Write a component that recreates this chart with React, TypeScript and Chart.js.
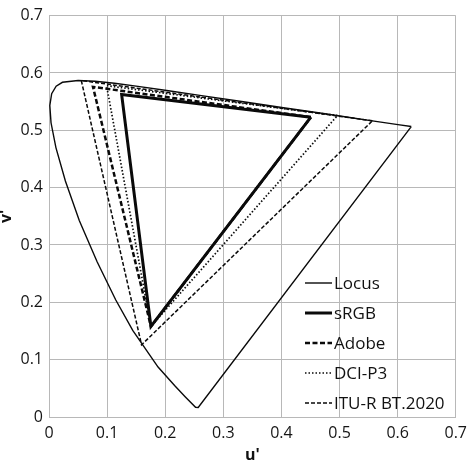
import React, { useEffect, useRef } from "react";
import { Chart, registerables } from "chart.js";

Chart.register(...registerables);

// Spectral locus (u', v') from red end around to blue end, closed by the purple line
const locusU = [0.6234, 0.6005, 0.5565, 0.5203, 0.4692, 0.4035, 0.3315, 0.2623, 0.2026, 0.1531, 0.1127, 0.0792, 0.0501, 0.0231, 0.0123, 0.0046, 0.0014, 0.0035, 0.0119, 0.0282, 0.0521, 0.0828, 0.1147, 0.1441, 0.1877, 0.2161, 0.2347, 0.2522, 0.2568, 0.6234];
const locusV = [0.5065, 0.5099, 0.5165, 0.5219, 0.5296, 0.5393, 0.5501, 0.5604, 0.5694, 0.5766, 0.5821, 0.5856, 0.5868, 0.5837, 0.5770, 0.5638, 0.5432, 0.5131, 0.4698, 0.4117, 0.3427, 0.2708, 0.2044, 0.1510, 0.0871, 0.0549, 0.0350, 0.0169, 0.0165, 0.5065];

const srgbU = [0.4507, 0.1250, 0.1754, 0.4507];
const srgbV = [0.5229, 0.5625, 0.1579, 0.5229];
const adobeU = [0.4507, 0.0757, 0.1754, 0.4507];
const adobeV = [0.5229, 0.5757, 0.1579, 0.5229];
const p3U = [0.4964, 0.0991, 0.1754, 0.4964];
const p3V = [0.5256, 0.5777, 0.1579, 0.5256];
const bt2020U = [0.5566, 0.0556, 0.1593, 0.5566];
const bt2020V = [0.5165, 0.5868, 0.1258, 0.5165];

const seriesNames = ["Locus", "sRGB", "Adobe", "DCI-P3", "ITU-R BT.2020"];
const tickLabels = ["0", "0.1", "0.2", "0.3", "0.4", "0.5", "0.6", "0.7"];

const pts = (u: number[], v: number[]) => u.map((x, i) => ({ x, y: v[i] }));

const FONT = "'Open Sans', 'Noto Sans', sans-serif";

const legendPlugin = {
  id: "insideLegend",
  afterDraw(chart: any) {
    const ctx = chart.ctx;
    const ds = chart.data.datasets;
    const x0 = 305;
    const x1 = 332;
    const yStart = 283;
    const step = 30;
    ctx.save();
    ds.forEach((d: any, i: number) => {
      const y = yStart + i * step;
      ctx.beginPath();
      ctx.setLineDash(d.borderDash || []);
      ctx.lineWidth = d.borderWidth;
      ctx.strokeStyle = d.borderColor;
      ctx.moveTo(x0, y);
      ctx.lineTo(x1, y);
      ctx.stroke();
      ctx.setLineDash([]);
      ctx.fillStyle = "#111";
      ctx.font = `17px ${FONT}`;
      ctx.textBaseline = "middle";
      ctx.textAlign = "left";
      ctx.fillText(d.label, x1 + 2, y + 1);
    });
    ctx.restore();
  },
};

export default function App() {
  const ref = useRef<HTMLCanvasElement>(null);
  useEffect(() => {
    document.body.style.margin = "0";
    const base = { showLine: true, pointRadius: 0, fill: false, tension: 0, borderColor: "#0a0a0a" };
    const chart = new Chart(ref.current!, {
      type: "scatter",
      data: {
        datasets: [
          { ...base, label: seriesNames[0], data: pts(locusU, locusV), borderWidth: 1.4, borderDash: [] },
          { ...base, label: seriesNames[1], data: pts(srgbU, srgbV), borderWidth: 3, borderDash: [] },
          { ...base, label: seriesNames[2], data: pts(adobeU, adobeV), borderWidth: 2.5, borderDash: [5, 2.5] },
          { ...base, label: seriesNames[3], data: pts(p3U, p3V), borderWidth: 1.7, borderDash: [1.5, 2] },
          { ...base, label: seriesNames[4], data: pts(bt2020U, bt2020V), borderWidth: 1.5, borderDash: [4, 2] },
        ] as any,
      },
      options: {
        responsive: false,
        animation: false,
        layout: { padding: { top: 4, right: 16, left: 0, bottom: 0 } },
        plugins: { legend: { display: false }, tooltip: { enabled: false } },
        scales: {
          x: {
            type: "linear",
            min: 0,
            max: 0.7,
            afterFit: (s: any) => { s.height = 46; },
            ticks: {
              stepSize: 0.1,
              callback: (_v: any, i: number) => tickLabels[i],
              font: { size: 16, family: FONT },
              color: "#151515",
              padding: 7,
              maxRotation: 0,
            },
            grid: { color: "#b8b8b8", lineWidth: 1, drawTicks: false },
            border: { color: "#b8b8b8" },
            title: { display: true, text: "u'", font: { size: 16, weight: "bold", family: FONT }, color: "#111", padding: { top: 0, bottom: -2 } },
          },
          y: {
            type: "linear",
            min: 0,
            max: 0.7,
            afterFit: (s: any) => { s.width = 49; },
            ticks: {
              stepSize: 0.1,
              callback: (_v: any, i: number) => tickLabels[i],
              font: { size: 16, family: FONT },
              color: "#151515",
              padding: 6,
            },
            grid: { color: "#b8b8b8", lineWidth: 1, drawTicks: false },
            border: { color: "#b8b8b8" },
            title: { display: true, text: "v'", font: { size: 16, weight: "bold", family: FONT }, color: "#111", padding: { top: -3, bottom: 0 } },
          },
        },
      } as any,
      plugins: [legendPlugin],
    });
    return () => chart.destroy();
  }, []);
  return <canvas ref={ref} width={474} height={463} style={{ display: "block" }} />;
}
